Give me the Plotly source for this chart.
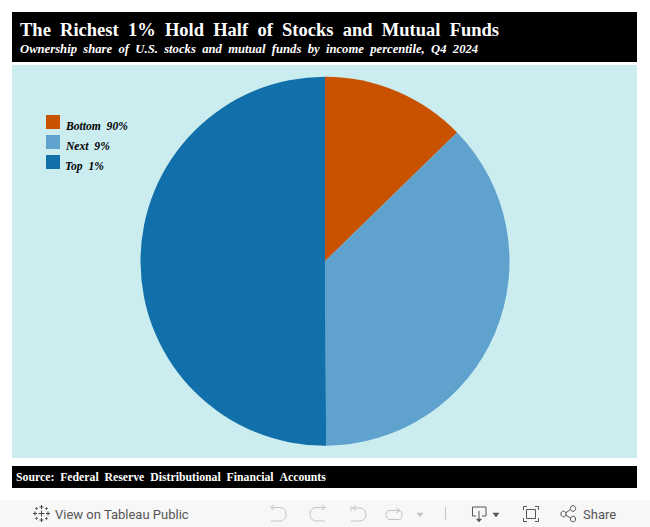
import re
import plotly.graph_objects as go

W, H = 650, 527

# Ownership share by income percentile, percent
groups = ["Bottom 90%", "Next 9%", "Top 1%"]
shares = [12.7, 37.2, 50.1]
colors = ["#c85200", "#5fa2ce", "#1170aa"]

title_text = "The Richest 1% Hold Half of Stocks and Mutual Funds"
subtitle_text = "Ownership share of U.S. stocks and mutual funds by income percentile, Q4 2024"
source_text = "Source: Federal Reserve Distributional Financial Accounts"

SERIF = "Liberation Serif"
UI = "Roboto"
ICON_ON = "#555555"
ICON_OFF = "#c4c4c4"


def wide(s):
    # the dashboard text is set with broad word gaps
    return s.replace(" ", "\u00a0\u00a0")


def fx(x):
    return x / W


def fy(y):
    return 1 - y / H


def rect(x0, y0, x1, y1, color):
    return dict(type="rect", xref="paper", yref="paper", x0=fx(x0), x1=fx(x1),
                y0=fy(y1), y1=fy(y0), fillcolor=color, line_width=0, layer="below")


def icon(d, color, width=1.0, fill=None):
    # d is an SVG path in pixel units, using absolute M/L/Q/C/Z commands only
    nums = iter(re.findall(r"[A-Z]|-?[\d.]+", d))
    out, is_x = [], True
    for tok in nums:
        if tok.isalpha():
            out.append(tok)
            is_x = True
        else:
            out.append(f"{fx(float(tok)):.5f}" if is_x else f"{fy(float(tok)):.5f}")
            is_x = not is_x
    return dict(type="path", xref="paper", yref="paper", path=" ".join(out),
                line=dict(color=color, width=width),
                fillcolor=fill if fill else "rgba(0,0,0,0)", layer="above")


def label(x, y, text, size, color, family=SERIF, bold=True, italic=False):
    return dict(xref="paper", yref="paper", x=fx(x), y=fy(y), text=text, showarrow=False,
                xanchor="left", yanchor="middle", align="left",
                font=dict(family=family, size=size, color=color,
                          weight="bold" if bold else "normal",
                          style="italic" if italic else "normal"))


def cross(cx, cy, arm):
    return (f"M{cx} {cy - arm} L{cx} {cy + arm} "
            f"M{cx - arm} {cy} L{cx + arm} {cy} ")


shapes = [
    rect(12, 12, 637, 62, "#000000"),
    rect(12, 65, 637, 458, "#cbedf0"),
    rect(12, 466, 637, 488, "#000000"),
    rect(0, 500, 650, 527, "#f7f7f7"),
]

annotations = [
    label(18, 30, wide(title_text), 18.5, "#ffffff"),
    label(18, 49, wide(subtitle_text), 12.67, "#ffffff", italic=True),
    label(14, 477, wide(source_text), 11.75, "#ffffff"),
    label(53, 514, "View on Tableau Public", 13, "#555555", family=UI, bold=False),
    label(581, 514, "Share", 13, "#555555", family=UI, bold=False),
]

# Legend swatches and labels stacked down the upper left of the panel
for i, (name, col) in enumerate(zip(groups, colors)):
    shapes.append(rect(46, 115 + 20 * i, 60, 129 + 20 * i, col))
    annotations.append(label(62.5, 126.6 + 20 * i, wide(name), 11.6, "#000000", italic=True))

# Toolbar glyphs
logo = cross(41.5, 513.5, 3)
for dx, dy in [(0, -6.5), (0, 6.5), (-6.5, 0), (6.5, 0)]:
    logo += cross(41.5 + dx, 513.5 + dy, 2)
for dx, dy in [(-5, -5), (5, -5), (-5, 5), (5, 5)]:
    logo += cross(41.5 + dx, 513.5 + dy, 1.2)
shapes += [
    icon(logo, "#444444", 1.0),
    # undo, redo
    icon("M272 507.5 L280 507.5 C288 507.5 288 521 280 521 L271 521 "
         "M274 505 L270.5 507.5 L274 510", ICON_OFF),
    icon("M324 507.5 L316 507.5 C308 507.5 308 521 316 521 L325 521 "
         "M322 505 L325.5 507.5 L322 510", ICON_OFF),
    # revert
    icon("M351 506 L351 511 M353 508 L360 508 C368 508 368 521 360 521 L351 521 "
         "M356 505.5 L352.5 508 L356 510.5", ICON_OFF),
    # refresh
    icon("M389 510.5 L399 510.5 C403 510.5 403 519.5 399 519.5 L390 519.5 "
         "C385 519.5 385 510.5 389 510.5 M396 508 L400 510.5 L396 513", ICON_OFF),
    icon("M417 513 L423 513 L420 517 Z", ICON_OFF, 0.5, ICON_OFF),
    icon("M445.5 507 L445.5 520", ICON_OFF),
    # download
    icon("M482 516 L486 516 L486 507 L472.5 507 L472.5 516 L476 516", ICON_ON),
    icon("M479 511 L479 521", ICON_ON),
    icon("M476.5 519 L479 522 L481.5 519 Z", ICON_ON, 0.5, ICON_ON),
    icon("M493 513 L499 513 L496 517 Z", ICON_ON, 0.5, ICON_ON),
    # full screen
    icon("M523.5 510 L523.5 506.5 L527 506.5 M535 506.5 L538.5 506.5 L538.5 510 "
         "M538.5 518 L538.5 521.5 L535 521.5 M527 521.5 L523.5 521.5 L523.5 518", ICON_ON),
    icon("M526.5 509.5 L535.5 509.5 L535.5 518.5 L526.5 518.5 Z", ICON_ON),
    # share
    icon("M565.5 513 L570.5 509.5 M565.5 515 L570.5 518", ICON_ON),
]
for cx, cy in [(563.5, 514), (573, 508.5), (573, 519)]:
    r, k = 2.6, 1.45
    shapes.append(icon(
        f"M{cx - r} {cy} C{cx - r} {cy - k * r} {cx + r} {cy - k * r} {cx + r} {cy} "
        f"C{cx + r} {cy + k * r} {cx - r} {cy + k * r} {cx - r} {cy} Z", ICON_ON))

fig = go.Figure(go.Pie(
    labels=groups,
    values=shares,
    sort=False,
    direction="clockwise",
    rotation=0,
    marker=dict(colors=colors, line=dict(width=0)),
    textinfo="none",
    hoverinfo="label+percent",
    domain=dict(x=[fx(140.5), fx(509.5)], y=[fy(446), fy(76.5)]),
))

fig.update_layout(
    width=W, height=H,
    margin=dict(l=0, r=0, t=0, b=0),
    paper_bgcolor="#ffffff",
    showlegend=False,
    shapes=shapes,
    annotations=annotations,
)

fig.write_html("out.html", config={"displayModeBar": False})
